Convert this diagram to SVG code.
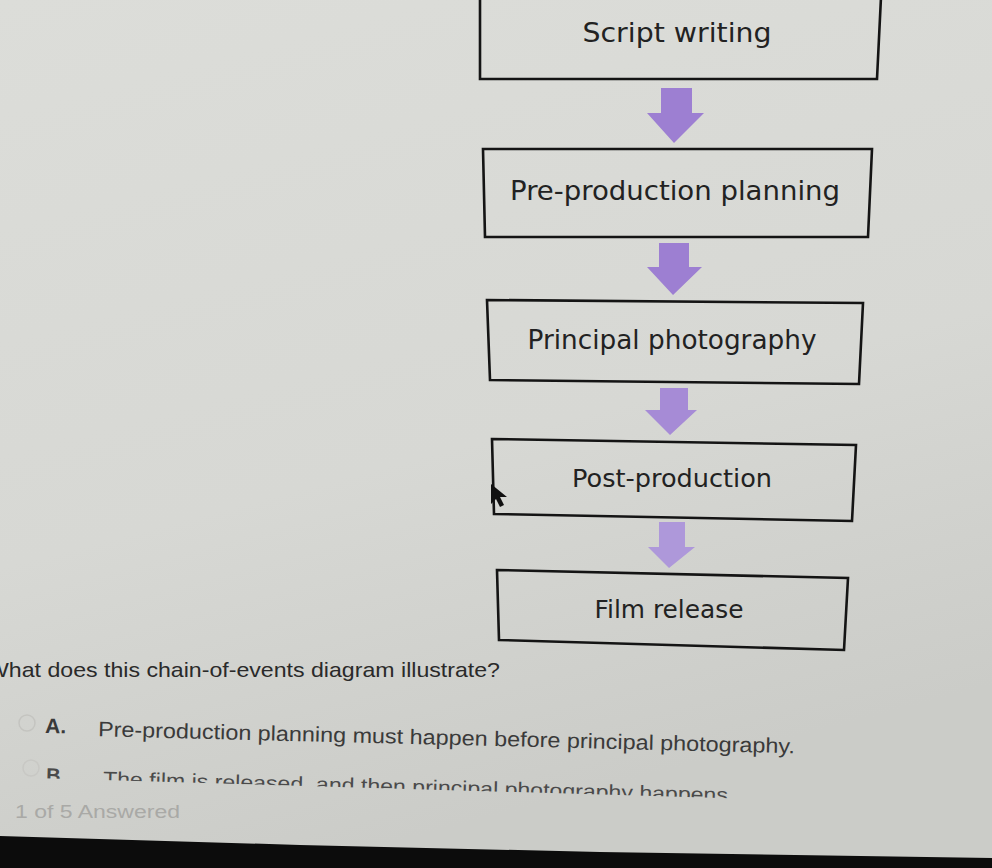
<svg xmlns="http://www.w3.org/2000/svg" width="992" height="868" viewBox="0 0 992 868">
<defs>
<linearGradient id="bg" x1="0" y1="0" x2="0.3" y2="1">
<stop offset="0" stop-color="#dcddd9"/>
<stop offset="0.6" stop-color="#d7d8d4"/>
<stop offset="1" stop-color="#cbccc8"/>
</linearGradient>
<clipPath id="cutB"><polygon points="0,0 992,0 992,806 0,777"/></clipPath>
<style>
.box{fill:none;stroke:#141414;stroke-width:2.6;stroke-linejoin:miter}
.lbl{font-family:"DejaVu Sans","Liberation Sans",sans-serif;fill:#222;text-anchor:middle}
.q{font-family:"Liberation Sans",Arial,sans-serif}
.arr1{fill:#9d7fd2}
.arr2{fill:#a68bd6}
.arr3{fill:#ae98da}
</style>
</defs>
<rect x="0" y="0" width="992" height="868" fill="url(#bg)"/>

<g id="connectors">
<polygon class="arr1" points="661,88 692,88 692,113 704,113 674,143 647,113 661,113"/>
<polygon class="arr1" points="659,243 689,243 689,267 702,267 673,295 647,267 659,267"/>
<polygon class="arr2" points="660,388 688,388 688,410 697,410 670,435 645,410 660,410"/>
<polygon class="arr3" points="659,522 685,522 685,547 695,547 669,568 648,547 659,547"/>
</g>

<g id="node-script">
<polygon class="box" points="480,-3 881,-3 877,79 480,79"/>
<text class="lbl" x="677" y="42" font-size="27" textLength="189" lengthAdjust="spacingAndGlyphs">Script writing</text>
</g>
<g id="node-preproduction">
<polygon class="box" points="483,149 872,149 868,237 485,237"/>
<text class="lbl" x="675" y="200" font-size="27" textLength="330" lengthAdjust="spacingAndGlyphs">Pre-production planning</text>
</g>
<g id="node-principal">
<polygon class="box" points="487,300 863,303 859,384 490,380"/>
<text class="lbl" x="672" y="349" font-size="26" textLength="289" lengthAdjust="spacingAndGlyphs">Principal photography</text>
</g>
<g id="node-post">
<polygon class="box" points="492,439 856,445 852,521 494,514"/>
<text class="lbl" x="672" y="487" font-size="25" textLength="200" lengthAdjust="spacingAndGlyphs">Post-production</text>
</g>
<g id="node-release">
<polygon class="box" points="497,570 848,578 844,650 499,640"/>
<text class="lbl" x="669" y="618" font-size="24.5" textLength="149" lengthAdjust="spacingAndGlyphs">Film release</text>
</g>

<polygon points="491,484 491,504 496,499 500,507 504,505 500,497 507,497" fill="#111"/>

<text class="q" x="-13" y="677" font-size="21" fill="#2a2a2a" textLength="513" lengthAdjust="spacingAndGlyphs">What does this chain-of-events diagram illustrate?</text>

<circle cx="27" cy="723" r="8" fill="none" stroke="#c4c4c0" stroke-width="1.5"/>
<g transform="rotate(1.4 45 733)">
<text class="q" x="45" y="733" font-size="21" fill="#3a3a3a" font-weight="bold">A.</text>
<text class="q" x="98" y="735" font-size="21" fill="#3a3a3a" textLength="697" lengthAdjust="spacingAndGlyphs">Pre-production planning must happen before principal photography.</text>
</g>

<circle cx="31" cy="768" r="8" fill="none" stroke="#c8c8c4" stroke-width="1.5"/>
<g clip-path="url(#cutB)">
<g transform="rotate(1.5 45 782)">
<text class="q" x="46" y="782" font-size="20" fill="#4a4a4a" font-weight="bold">B.</text>
<text class="q" x="103" y="784" font-size="20" fill="#4a4a4a" textLength="625" lengthAdjust="spacingAndGlyphs">The film is released, and then principal photography happens</text>
</g>
</g>

<text class="q" x="15" y="818" font-size="18" fill="#a9a9a6" textLength="165" lengthAdjust="spacingAndGlyphs">1 of 5 Answered</text>

<polygon points="0,836 300,845 600,852 992,858 992,868 0,868" fill="#0c0c0c"/>
</svg>
